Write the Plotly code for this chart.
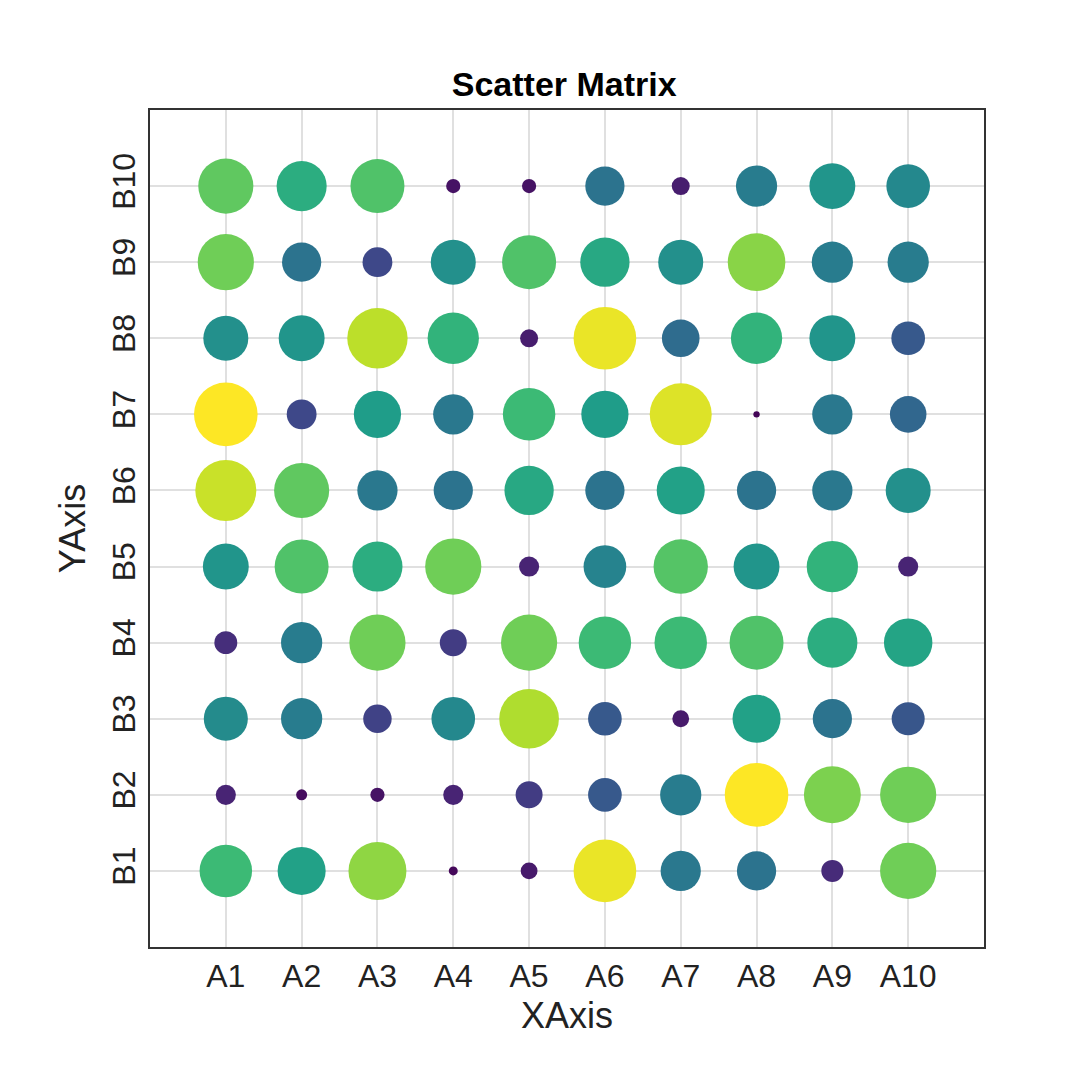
import plotly.graph_objects as go

x_labels = ["A1", "A2", "A3", "A4", "A5", "A6", "A7", "A8", "A9", "A10"]
y_labels = ["B1", "B2", "B3", "B4", "B5", "B6", "B7", "B8", "B9", "B10"]

# rows B1..B10, columns A1..A10
values = [
    [0.68, 0.57, 0.83, 0.02, 0.07, 0.97, 0.40, 0.38, 0.12, 0.78],
    [0.10, 0.03, 0.05, 0.10, 0.18, 0.28, 0.42, 1.00, 0.80, 0.78],
    [0.48, 0.42, 0.20, 0.47, 0.88, 0.28, 0.07, 0.57, 0.38, 0.27],
    [0.13, 0.42, 0.78, 0.18, 0.78, 0.68, 0.68, 0.72, 0.62, 0.58],
    [0.52, 0.72, 0.62, 0.78, 0.10, 0.45, 0.73, 0.52, 0.65, 0.10],
    [0.92, 0.75, 0.40, 0.38, 0.60, 0.38, 0.57, 0.38, 0.40, 0.50],
    [1.00, 0.22, 0.55, 0.40, 0.68, 0.55, 0.95, 0.01, 0.40, 0.33],
    [0.50, 0.52, 0.90, 0.65, 0.08, 0.97, 0.35, 0.65, 0.52, 0.28],
    [0.78, 0.38, 0.22, 0.50, 0.72, 0.60, 0.50, 0.82, 0.42, 0.42],
    [0.75, 0.62, 0.72, 0.05, 0.05, 0.38, 0.08, 0.42, 0.52, 0.47],
]

xs, ys, vs = [], [], []
for j, row in enumerate(values):
    for i, v in enumerate(row):
        xs.append(i + 1)
        ys.append(j + 1)
        vs.append(v)

fig = go.Figure(go.Scatter(
    x=xs, y=ys, mode="markers",
    marker=dict(
        size=vs, sizemode="area", sizeref=max(vs) / 45 ** 2, sizemin=3,
        color=vs, colorscale="Viridis", cmin=0, cmax=1,
        line=dict(width=0), opacity=1,
    ),
    showlegend=False,
))

axis_common = dict(
    range=[0, 11], showgrid=True, gridcolor="#e0e0e0", gridwidth=1.5,
    zeroline=False, showline=True, linecolor="#333333", linewidth=1.5, mirror=True,
    tickfont=dict(size=32, color="#222222"), tickvals=list(range(1, 11)), ticks="",
    automargin=False,
)
fig.update_xaxes(**axis_common, ticktext=x_labels,
                 title=dict(text="XAxis", font=dict(size=36, color="#222222"), standoff=10))
fig.update_yaxes(**axis_common, ticktext=y_labels, tickangle=-90,
                 title=dict(text="YAxis", font=dict(size=36, color="#222222"), standoff=10))

fig.update_layout(
    width=1080, height=1080,
    font=dict(family="Liberation Sans, Arial, sans-serif"),
    title=dict(text="<b>Scatter Matrix</b>", x=0.515, xanchor="center",
               y=0.93, yanchor="middle", font=dict(size=34, color="black")),
    plot_bgcolor="white", paper_bgcolor="white",
    margin=dict(l=142, r=104, t=102, b=141),
)

fig.write_html("out.html")
